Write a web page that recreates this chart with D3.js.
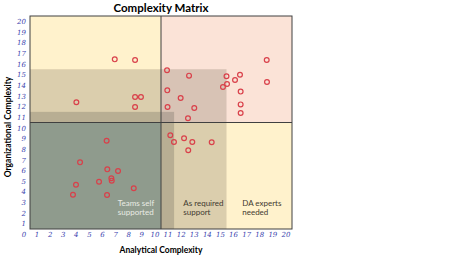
<!DOCTYPE html>
<html>
<head>
<meta charset="utf-8">
<script src="https://cdn.jsdelivr.net/npm/d3@7"></script>
<style>
  body { margin: 0; background: #fff; }
  svg { display: block; }
</style>
</head>
<body>
<div id="chart"></div>
<script>
// analytical (x) / organizational (y) complexity of each item
const analytical = [
  6.97, 8.52, 4.04, 8.52, 8.97, 8.52, 10.96, 12.64, 10.98, 12.0, 11.0, 13.04, 12.56,
  15.5, 16.15, 16.53, 15.54, 15.23, 16.58, 16.58, 16.58, 18.57, 18.59,
  11.21, 11.49, 12.26, 12.89, 14.37, 12.58,
  6.35, 4.32, 6.4, 7.22, 6.71, 6.74, 5.77, 4.01, 3.78, 6.38, 8.42
]
const organizational = [
  16.43, 16.37, 12.4, 12.9, 12.9, 11.96, 15.4, 14.9, 13.52, 12.8, 11.96, 11.86, 10.9,
  14.84, 14.49, 14.99, 14.12, 13.83, 13.4, 12.2, 11.39, 16.37, 14.3,
  9.3, 8.67, 9.02, 8.67, 8.64, 7.89,
  8.79, 6.76, 6.1, 5.95, 5.26, 5.04, 4.94, 4.66, 3.72, 3.69, 4.32
]
const xTicks = d3.range(0, 21)
const yTicks = d3.range(1, 21)
const zoneLabels = [
  { x: 7.2, y: 2.65, lines: ["Teams self", "supported"], color: "#e9ebe4" },
  { x: 12.2, y: 2.65, lines: ["As required", "support"], color: "#3f3a30" },
  { x: 16.7, y: 2.65, lines: ["DA experts", "needed"], color: "#3f3a30" }
]

const width = 474, height = 258

const svg = d3.select("#chart").append("svg")
  .attr("width", width)
  .attr("height", height)

const x = d3.scaleLinear().domain([0.5, 20.5]).range([30, 292])
const y = d3.scaleLinear().domain([0.5, 20.5]).range([229, 16])

function box(g, x0, x1, y0, y1, fill) {
  return g.append("rect")
    .attr("x", x(x0)).attr("y", y(y1))
    .attr("width", x(x1) - x(x0)).attr("height", y(y0) - y(y1))
    .attr("fill", fill)
}

const bg = svg.append("g")
// quadrants
box(bg, 0.5, 10.5, 10.5, 20.5, "#fff2cc")
box(bg, 10.5, 20.5, 10.5, 20.5, "#fbe3d7")
box(bg, 10.5, 20.5, 0.5, 10.5, "#fff2cc")
// support bands
box(bg, 0.5, 15.5, 0.5, 15.5, "rgba(110,100,80,0.25)")
box(bg, 0.5, 11.5, 0.5, 11.5, "rgba(80,80,70,0.25)")
box(bg, 0.5, 10.5, 0.5, 10.5, "#8f9b8d")

// dividers + frame
svg.append("line")
  .attr("x1", x(10.5)).attr("x2", x(10.5)).attr("y1", y(0.5)).attr("y2", y(20.5))
  .attr("stroke", "#404040").attr("stroke-width", 1)
svg.append("line")
  .attr("x1", x(0.5)).attr("x2", x(20.5)).attr("y1", y(10.5)).attr("y2", y(10.5))
  .attr("stroke", "#404040").attr("stroke-width", 1)
svg.append("rect")
  .attr("x", x(0.5)).attr("y", y(20.5))
  .attr("width", x(20.5) - x(0.5)).attr("height", y(0.5) - y(20.5))
  .attr("fill", "none").attr("stroke", "#404040").attr("stroke-width", 1)

// zone captions
zoneLabels.forEach(d => {
  const t = svg.append("text")
    .attr("x", x(d.x)).attr("y", y(d.y))
    .attr("fill", d.color)
    .style("font-family", "Lato, 'Open Sans', sans-serif")
    .style("font-size", "8px")
  d.lines.forEach((l, i) => {
    t.append("tspan").attr("x", x(d.x)).attr("dy", i ? 9 : 0).text(l)
  })
})

// points
svg.append("g").selectAll("circle")
  .data(analytical.map((a, i) => [a, organizational[i]]))
  .join("circle")
  .attr("cx", d => x(d[0]))
  .attr("cy", d => y(d[1]))
  .attr("r", 2.4)
  .attr("fill", "none")
  .attr("stroke", "#d9404a")
  .attr("stroke-width", 1.2)

// axes
const xAxis = svg.append("g")
  .attr("transform", `translate(0,${y(0.5)})`)
  .call(d3.axisBottom(x).tickValues(xTicks).tickSize(0).tickPadding(3))
const yAxis = svg.append("g")
  .attr("transform", `translate(${x(0.5) - 2},0)`)
  .call(d3.axisLeft(y).tickValues(yTicks).tickSize(0).tickPadding(2))
;[xAxis, yAxis].forEach(g => {
  g.select(".domain").remove()
  g.selectAll("text")
    .attr("fill", "#3a3fae")
    .style("font-family", "'DejaVu Serif', serif")
    .style("font-style", "italic")
    .style("font-size", "7px")
})

// titles
svg.append("text")
  .attr("x", 161).attr("y", 12)
  .attr("text-anchor", "middle")
  .style("font-family", "Lato, sans-serif")
  .style("font-weight", "bold")
  .style("font-size", "11.5px")
  .text("Complexity Matrix")
svg.append("text")
  .attr("x", 161).attr("y", 253)
  .attr("text-anchor", "middle")
  .style("font-family", "Lato, sans-serif")
  .style("font-weight", "bold")
  .style("font-size", "8.5px")
  .text("Analytical Complexity")
svg.append("text")
  .attr("transform", "translate(11,127) rotate(-90)")
  .attr("text-anchor", "middle")
  .style("font-family", "Lato, sans-serif")
  .style("font-weight", "bold")
  .style("font-size", "8.5px")
  .text("Organizational Complexity")
</script>
</body>
</html>
